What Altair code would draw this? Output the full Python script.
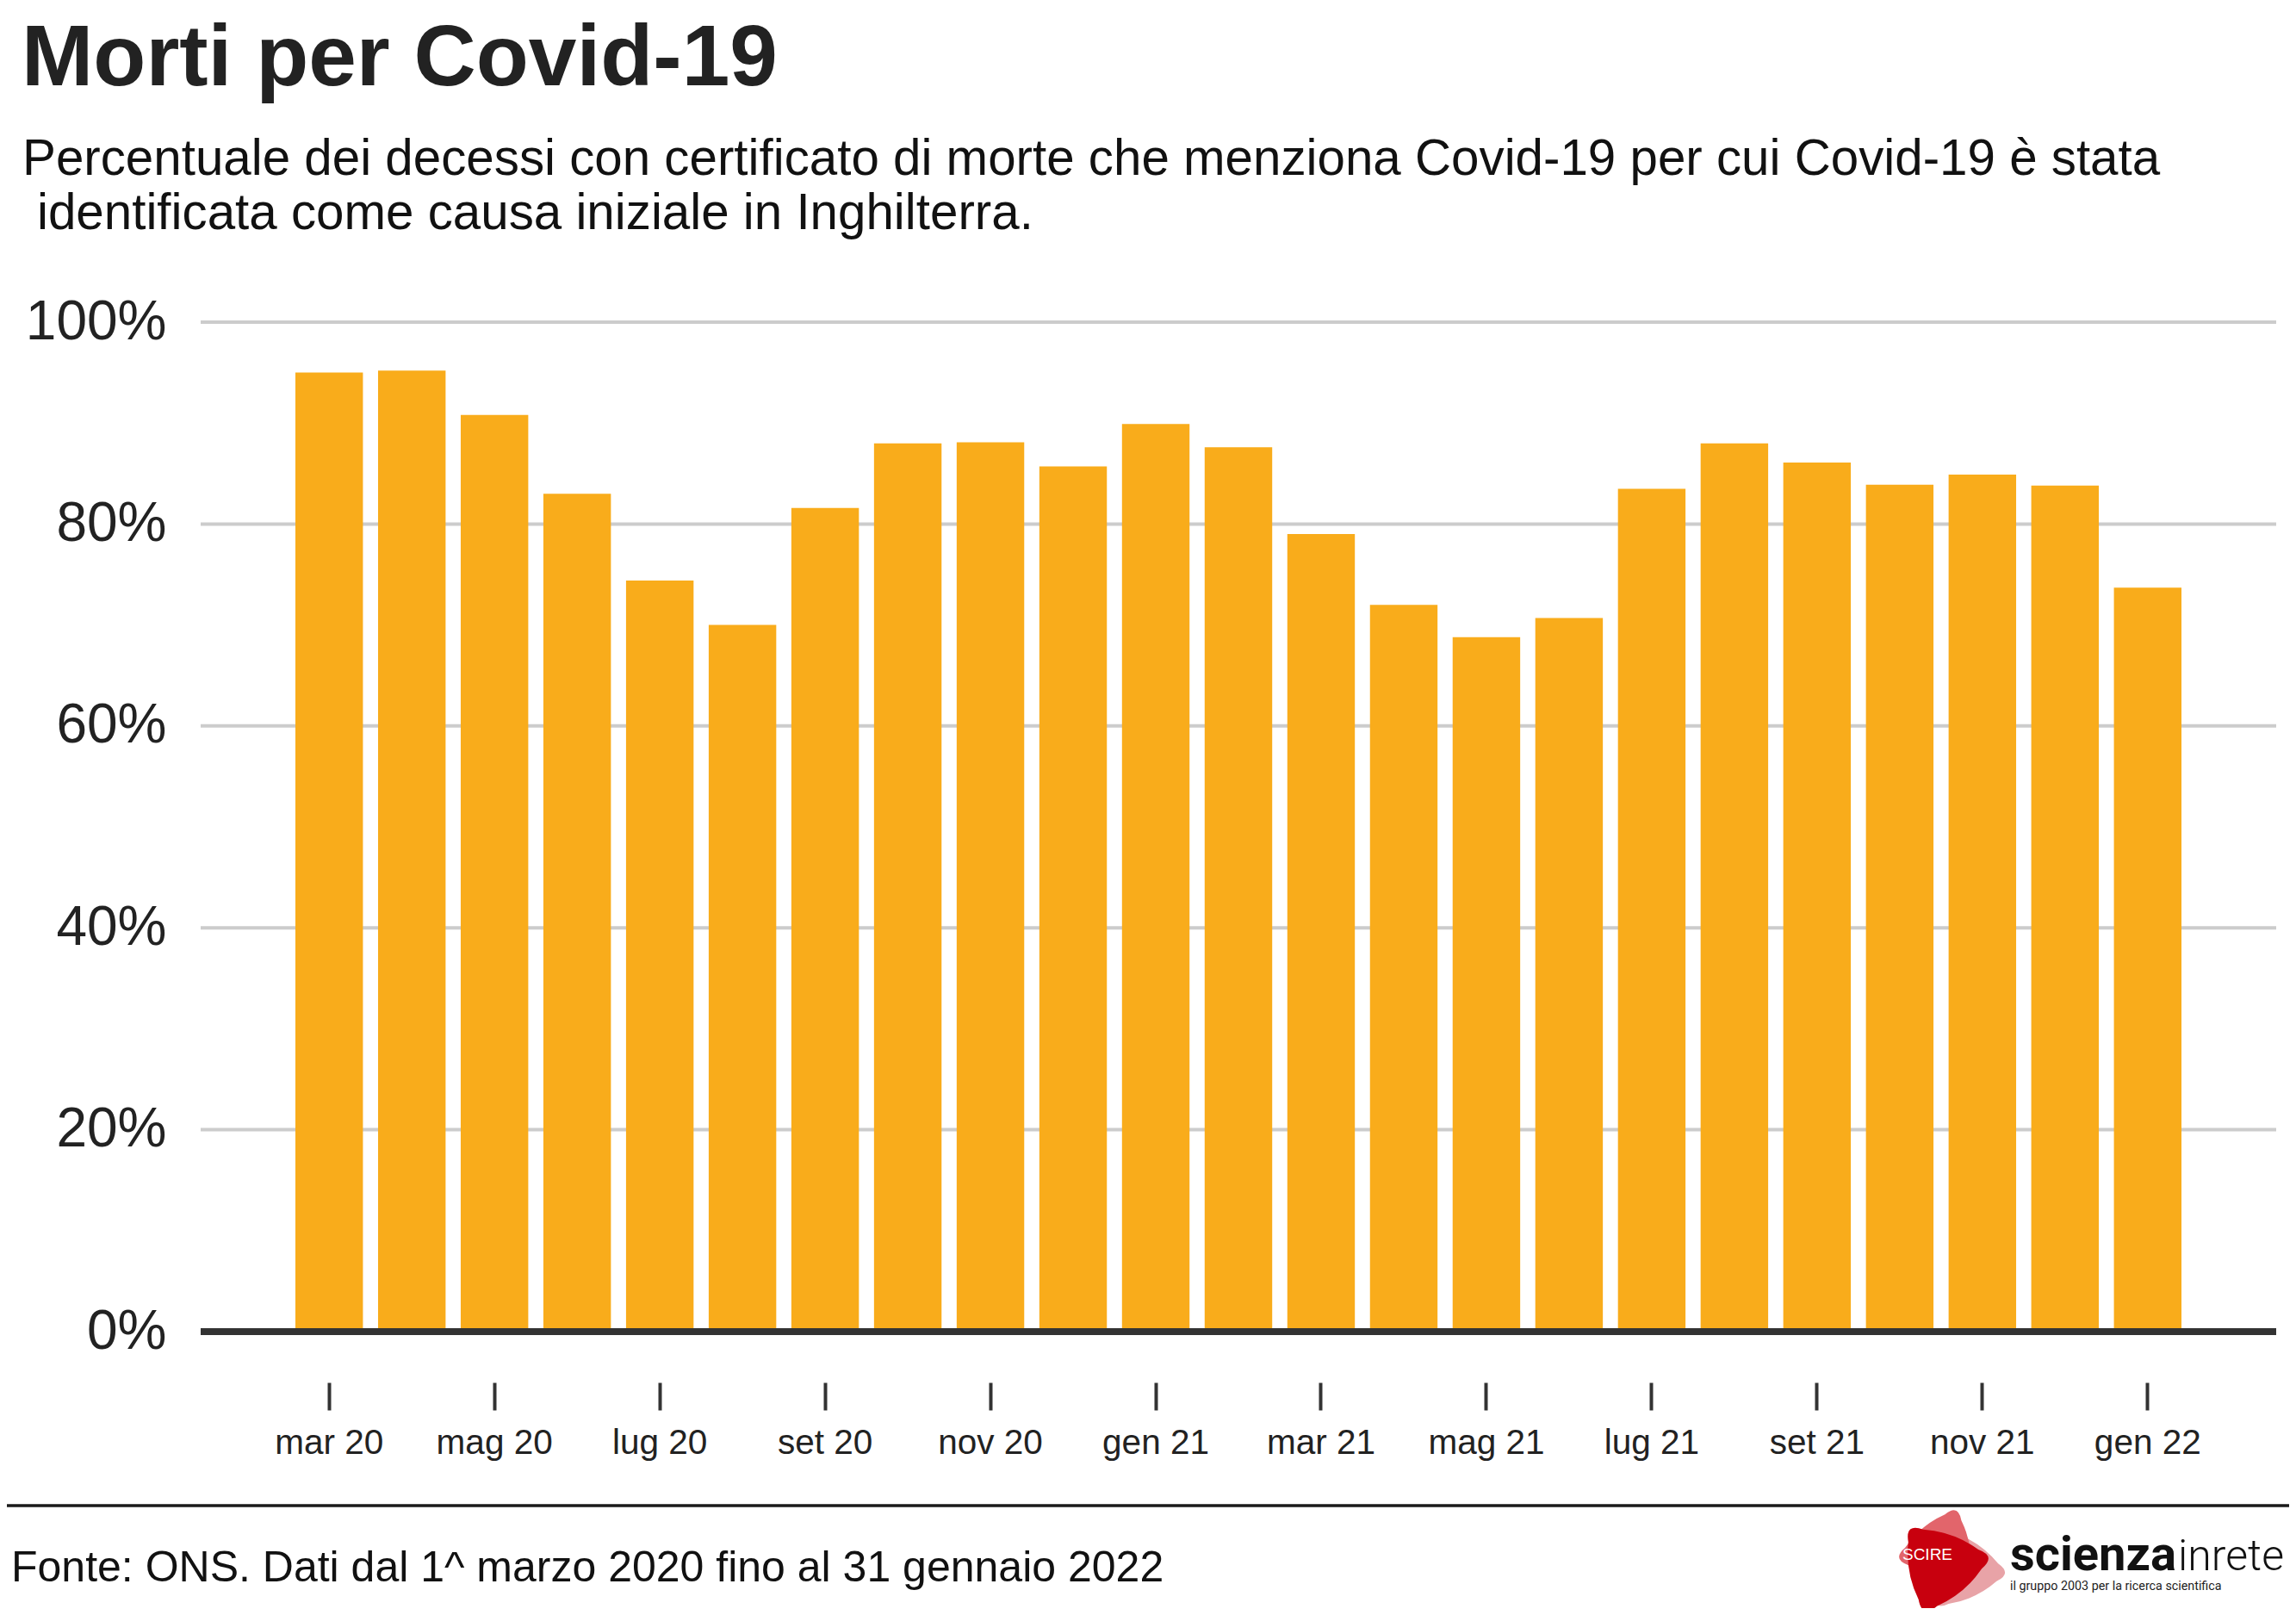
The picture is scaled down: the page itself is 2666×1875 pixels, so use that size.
import altair as alt
import pandas as pd

# ---------------- data ----------------
MONTHS = ["mar 20", "apr 20", "mag 20", "giu 20", "lug 20", "ago 20", "set 20",
          "ott 20", "nov 20", "dic 20", "gen 21", "feb 21", "mar 21", "apr 21",
          "mag 21", "giu 21", "lug 21", "ago 21", "set 21", "ott 21", "nov 21",
          "dic 21", "gen 22"]
SHARE = [95.0, 95.2, 90.8, 83.0, 74.4, 70.0, 81.6, 88.0, 88.1, 85.7, 89.9, 87.6,
         79.0, 72.0, 68.8, 70.7, 83.5, 88.0, 86.1, 83.9, 84.9, 83.8, 73.7]
TICK_LABELS = ["mar 20", "mag 20", "lug 20", "set 20", "nov 20", "gen 21",
               "mar 21", "mag 21", "lug 21", "set 21", "nov 21", "gen 22"]
Y_TICKS = [0, 20, 40, 60, 80, 100]

TITLE = "Morti per Covid-19"
SUBTITLE = ["Percentuale dei decessi con certificato di morte che menziona Covid-19 per cui Covid-19 è stata",
            "identificata come causa iniziale in Inghilterra."]
SOURCE = "Fonte: ONS. Dati dal 1^ marzo 2020 fino al 31 gennaio 2022"
LOGO_BADGE = "SCIRE"
LOGO_BOLD = "scienza"
LOGO_LIGHT = "inrete"
LOGO_TAG = "il gruppo 2003 per la ricerca scientifica"

# ---------------- layout ----------------
W, H = 2410, 1172
X0, Y0 = 233, 374          # plot origin in page pixels
FONT = "Liberation Sans"
BAR = "#F9AC1B"


def px(x):
    return x - X0


def py(y):
    return y - Y0


def text_layer(s, x, y, size, weight="normal", color="#000000", align="left",
               font=FONT, baseline="alphabetic"):
    return alt.Chart(pd.DataFrame({"t": [s]})).mark_text(
        align=align, baseline=baseline, fontSize=size, fontWeight=weight,
        color=color, font=font
    ).encode(text="t:N", x=alt.value(px(x)), y=alt.value(py(y)))


Y_AXIS = alt.Axis(values=Y_TICKS, title=None, domain=False, ticks=False,
                  grid=False, labelExpr="datum.value + '%'", labelFontSize=64,
                  labelColor="#222222", labelFont=FONT, labelPadding=40)
Y_SCALE = alt.Scale(domain=[0, 100], nice=False)

df = pd.DataFrame({"mese": MONTHS, "quota": SHARE})

grid = alt.Chart(pd.DataFrame({"quota": Y_TICKS})).mark_rule(
    color="#cccccc", strokeWidth=4
).encode(y=alt.Y("quota:Q", scale=Y_SCALE, axis=Y_AXIS),
         x=alt.value(0), x2=alt.value(W))

bars = alt.Chart(df).mark_bar(color=BAR).encode(
    x=alt.X("mese:N", sort=MONTHS,
            scale=alt.Scale(paddingInner=0.183, paddingOuter=0, range=[110, 2300]),
            axis=alt.Axis(values=TICK_LABELS, title=None, domain=False, grid=False,
                          offset=59, tickSize=32, tickWidth=4, tickColor="#333333",
                          labelFontSize=40.5, labelColor="#222222", labelFont=FONT,
                          labelPadding=18, labelAngle=0, bandPosition=0.5)),
    y=alt.Y("quota:Q", scale=Y_SCALE, axis=Y_AXIS),
)

one = pd.DataFrame({"a": [0]})

zero_line = alt.Chart(one).mark_rule(color="#333333", strokeWidth=8).encode(
    x=alt.value(0), x2=alt.value(W), y=alt.value(H))

footer_line = alt.Chart(one).mark_rule(color="#1a1a1a", strokeWidth=3.5).encode(
    x=alt.value(px(0)), x2=alt.value(px(2666)), y=alt.value(py(1748)))

title = text_layer(TITLE, 25, 99, 100, weight="bold", color="#222222")
sub1 = text_layer(SUBTITLE[0], 26, 203, 58.3, color="#111111")
sub2 = text_layer(SUBTITLE[1], 43, 266, 58.3, color="#111111")
source = text_layer(SOURCE, 13, 1836, 50, color="#111111")

# logo
TRI = ("M 0.174 -0.7 Q 0.565 -0.325 0.696 0.2 Q 0.87 0.5 0.522 0.5 "
       "Q 0 0.65 -0.522 0.5 Q -0.87 0.5 -0.696 0.2 Q -0.565 -0.325 -0.174 -0.7 "
       "Q 0 -1 0.174 -0.7 Z")


def logo_shape(x, y, size, angle, color):
    return alt.Chart(one).mark_point(shape=TRI, filled=True, opacity=1,
                                     size=size, angle=angle, color=color,
                                     strokeWidth=0).encode(
        x=alt.value(px(x)), y=alt.value(py(y)))


logo = [
    logo_shape(2278, 1822, 14000, 95, "#e8a3a7"),
    logo_shape(2254, 1800, 13500, 20, "#e2656b"),
    logo_shape(2254, 1818, 17000, 200, "#c8000e"),
]
badge = text_layer(LOGO_BADGE, 2238, 1811, 19, color="#ffffff", align="center")
brand1 = text_layer(LOGO_BOLD, 2334, 1823, 56, weight="bold", color="#111111", font="Roboto")
brand2 = text_layer(LOGO_LIGHT, 2652, 1823, 50, weight=300, color="#111111", align="right", font="Roboto")
tag = text_layer(LOGO_TAG, 2334, 1846, 14.3, color="#222222", font="Roboto")

chart = alt.layer(
    grid, bars, zero_line, footer_line, title, sub1, sub2, source,
    *logo, badge, brand1, brand2, tag
).properties(
    width=W, height=H,
    padding={"left": 225, "top": 366, "right": 15, "bottom": 321},
    autosize=alt.AutoSizeParams(type="none"),
    background="#ffffff",
).configure_view(stroke=None)

chart.save("out.html", embed_options={"renderer": "svg", "actions": False})
